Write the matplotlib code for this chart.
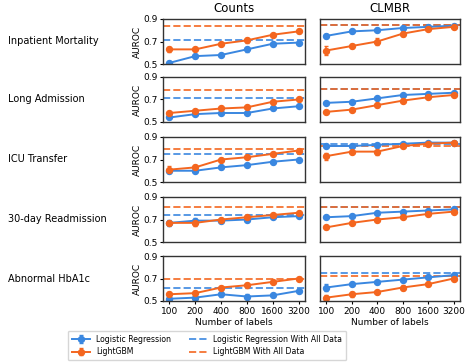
import matplotlib
matplotlib.use("Agg")
import matplotlib.pyplot as plt
import numpy as np

n_labels = ["100", "200", "400", "800", "1600", "3200"]
tasks = ["Inpatient Mortality", "Long Admission", "ICU Transfer", "30-day Readmission", "Abnormal HbA1c"]
features = ["Counts", "CLMBR"]

# [task][feature] -> values per number of labels
lr = [
    [[0.51, 0.57, 0.58, 0.63, 0.68, 0.69], [0.75, 0.79, 0.80, 0.82, 0.83, 0.84]],
    [[0.54, 0.57, 0.58, 0.58, 0.62, 0.64], [0.67, 0.68, 0.71, 0.74, 0.75, 0.76]],
    [[0.60, 0.60, 0.63, 0.65, 0.68, 0.70], [0.82, 0.82, 0.83, 0.84, 0.85, 0.85]],
    [[0.67, 0.69, 0.69, 0.70, 0.72, 0.73], [0.72, 0.73, 0.76, 0.77, 0.78, 0.79]],
    [[0.52, 0.53, 0.56, 0.54, 0.55, 0.59], [0.62, 0.65, 0.67, 0.69, 0.71, 0.73]],
]
lr_err = [
    [[0.02, 0.02, 0.01, 0.02, 0.01, 0.01], [0.02, 0.01, 0.01, 0.01, 0.01, 0.01]],
    [[0.01, 0.01, 0.01, 0.01, 0.01, 0.01], [0.01, 0.01, 0.01, 0.01, 0.01, 0.01]],
    [[0.01, 0.01, 0.01, 0.01, 0.01, 0.01], [0.01, 0.01, 0.01, 0.01, 0.01, 0.01]],
    [[0.03, 0.02, 0.01, 0.01, 0.01, 0.01], [0.01, 0.01, 0.01, 0.01, 0.01, 0.01]],
    [[0.01, 0.01, 0.02, 0.02, 0.01, 0.01], [0.03, 0.01, 0.01, 0.01, 0.01, 0.01]],
]
lgbm = [
    [[0.63, 0.63, 0.68, 0.71, 0.76, 0.79], [0.62, 0.66, 0.70, 0.77, 0.81, 0.83]],
    [[0.58, 0.60, 0.62, 0.63, 0.68, 0.70], [0.59, 0.61, 0.65, 0.69, 0.72, 0.74]],
    [[0.61, 0.63, 0.70, 0.72, 0.75, 0.78], [0.73, 0.77, 0.77, 0.82, 0.84, 0.85]],
    [[0.67, 0.67, 0.70, 0.72, 0.74, 0.76], [0.63, 0.67, 0.70, 0.72, 0.75, 0.77]],
    [[0.56, 0.57, 0.62, 0.64, 0.67, 0.70], [0.53, 0.56, 0.58, 0.62, 0.65, 0.70]],
]
lgbm_err = [
    [[0.02, 0.01, 0.01, 0.02, 0.01, 0.01], [0.04, 0.02, 0.03, 0.02, 0.01, 0.01]],
    [[0.01, 0.01, 0.01, 0.01, 0.01, 0.01], [0.01, 0.01, 0.02, 0.01, 0.01, 0.01]],
    [[0.03, 0.02, 0.01, 0.01, 0.01, 0.01], [0.03, 0.01, 0.03, 0.01, 0.01, 0.01]],
    [[0.02, 0.03, 0.01, 0.01, 0.01, 0.01], [0.01, 0.01, 0.01, 0.01, 0.01, 0.01]],
    [[0.02, 0.02, 0.01, 0.02, 0.01, 0.01], [0.02, 0.02, 0.01, 0.02, 0.02, 0.01]],
]
lr_all = [[0.71, 0.85], [0.71, 0.79], [0.75, 0.835], [0.74, 0.81], [0.62, 0.75]]
lgbm_all = [[0.84, 0.85], [0.78, 0.79], [0.79, 0.82], [0.81, 0.81], [0.70, 0.72]]

blue = "#3a87e0"
orange = "#f4661f"

fig = plt.figure(figsize=(4.74, 3.64), dpi=100)
W, H = 474, 364
col_x = [163, 320]
col_w = [142, 140]
row_top = [19, 77, 137, 197, 256]
ax_h = 45

x = np.arange(len(n_labels))
for i, task in enumerate(tasks):
    for j, feat in enumerate(features):
        ax = fig.add_axes([col_x[j] / W, 1 - (row_top[i] + ax_h) / H, col_w[j] / W, ax_h / H])
        e1 = ax.errorbar(x, lr[i][j], yerr=lr_err[i][j], color=blue, marker="o", ms=4.3,
                         lw=1.4, capsize=1.5, elinewidth=1.1)
        e2 = ax.errorbar(x, lgbm[i][j], yerr=lgbm_err[i][j], color=orange, marker="o", ms=4.3,
                         lw=1.4, capsize=1.5, elinewidth=1.1)
        l1 = ax.axhline(lr_all[i][j], color=blue, ls="--", lw=1.4, alpha=0.85)
        l2 = ax.axhline(lgbm_all[i][j], color=orange, ls="--", lw=1.4, alpha=0.85)
        ax.set_ylim(0.5, 0.9)
        ax.set_yticks([0.5, 0.7, 0.9])
        ax.set_xticks(x)
        for s in ax.spines.values():
            s.set_color("#333333")
            s.set_linewidth(1.0)
        ax.tick_params(labelsize=6.5, length=2.5, pad=1.5)
        if j == 0:
            ax.set_ylabel("AUROC", fontsize=6.5, labelpad=1)
        else:
            ax.set_yticklabels([])
            ax.tick_params(axis="y", length=0)
        if i == len(tasks) - 1:
            ax.set_xticklabels(n_labels)
            ax.set_xlabel("Number of labels", fontsize=6.5, labelpad=2)
        else:
            ax.set_xticklabels([])
            ax.tick_params(axis="x", length=0)
        if i == 0:
            ax.set_title(feat, fontsize=8.5, pad=5)
    fig.text(8 / W, 1 - (row_top[i] + ax_h / 2) / H, task, fontsize=7, va="center", ha="left")

handles = [e1, e2, l1, l2]
labels = ["Logistic Regression", "LightGBM",
          "Logistic Regression With All Data", "LightGBM With All Data"]
fig.legend(handles, labels, loc="lower center", bbox_to_anchor=(207 / W, 0.0), ncol=2,
           fontsize=5.6, frameon=True, columnspacing=2.2, handlelength=2.4,
           borderpad=0.5, labelspacing=0.45)

fig.savefig("out.png", dpi=100)
